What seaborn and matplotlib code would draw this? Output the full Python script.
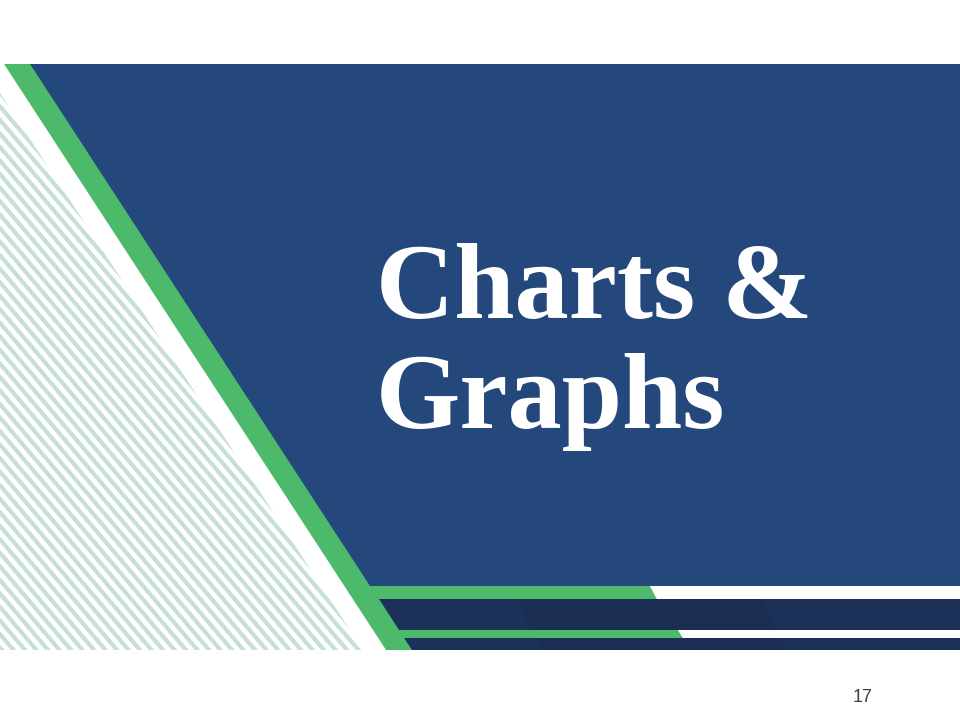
import numpy as np
import pandas as pd
import seaborn as sns
import matplotlib
matplotlib.use("Agg")
import matplotlib.pyplot as plt
from matplotlib.patches import Polygon

# ---- content ----
title_lines = ["Charts &", "Graphs"]
page_number = "17"

# ---- colours ----
BLUE = "#24487c"
NAVY = "#1c3158"
NAVY_MID = "#1a2d52"
GREEN = "#4dba6b"
STRIPE = "#c6e0d3"
WHITE = "#ffffff"

sns.set_theme(style="white")
plt.rcParams["font.family"] = ["Liberation Sans", "DejaVu Sans"]

fig = plt.figure(figsize=(9.6, 7.2), dpi=100)
ax = fig.add_axes([0, 0, 1, 1])
ax.set_xlim(0, 960)
ax.set_ylim(720, 0)
ax.axis("off")
fig.patch.set_facecolor(WHITE)

TOP, BOT = 64, 650
SLOPE = 0.652


def edge(x0, y):
    return x0 + SLOPE * (y - TOP)


# striped region (left)
stripe_poly = [(0, TOP + 19 / SLOPE), (0, BOT), (edge(-19, BOT), BOT)]
clip = Polygon(stripe_poly, closed=True, facecolor="none", edgecolor="none",
               transform=ax.transData)
ax.add_patch(clip)
k = 0.85
ys = np.array([40, 680])
for c in np.arange(-700, 420, 11.5):
    ln, = ax.plot(c + k * ys, ys, color=STRIPE, lw=3.0, solid_capstyle="butt")
    ln.set_clip_path(clip)

# green diagonal band
ax.fill([edge(4, TOP), edge(40, TOP), edge(40, BOT), edge(4, BOT)],
        [TOP, TOP, BOT, BOT], color=GREEN, lw=0)

# main blue block
ax.fill([edge(30, TOP), 960, 960, edge(30, 586)], [TOP, TOP, 586, 586],
        color=BLUE, lw=0)

# green bar 1 + white tail
ax.fill([edge(30, 586), 650, 657, edge(30, 599)], [586, 586, 599, 599],
        color=GREEN, lw=0)
ax.fill([650, 960, 960, 657], [586, 586, 599, 599], color=WHITE, lw=0)

# navy band 1
ax.fill([edge(30, 599), 960, 960, edge(30, 630)], [599, 599, 630, 630],
        color=NAVY, lw=0)
ax.fill([517, 762, 775, 530], [599, 599, 630, 630], color=NAVY_MID, lw=0)

# green bar 2 + white tail
ax.fill([edge(30, 630), 678, 683, edge(30, 638)], [630, 630, 638, 638],
        color=GREEN, lw=0)
ax.fill([678, 960, 960, 683], [630, 630, 638, 638], color=WHITE, lw=0)

# navy band 2
ax.fill([edge(30, 638), 960, 960, edge(30, BOT)], [638, 638, BOT, BOT],
        color=NAVY, lw=0)
ax.fill([535, 780, 786, 541], [638, 638, BOT, BOT], color=NAVY_MID, lw=0)

# title
for i, line in enumerate(title_lines):
    ax.text(376, 318 + i * 110, line, color=WHITE, fontsize=78,
            fontweight="bold", family=["Liberation Serif", "DejaVu Serif"],
            ha="left", va="baseline")

# page number
ax.text(863, 698, page_number, color="#404040", fontsize=13,
        ha="center", va="center")

fig.savefig("out.png", dpi=100, facecolor=WHITE)
